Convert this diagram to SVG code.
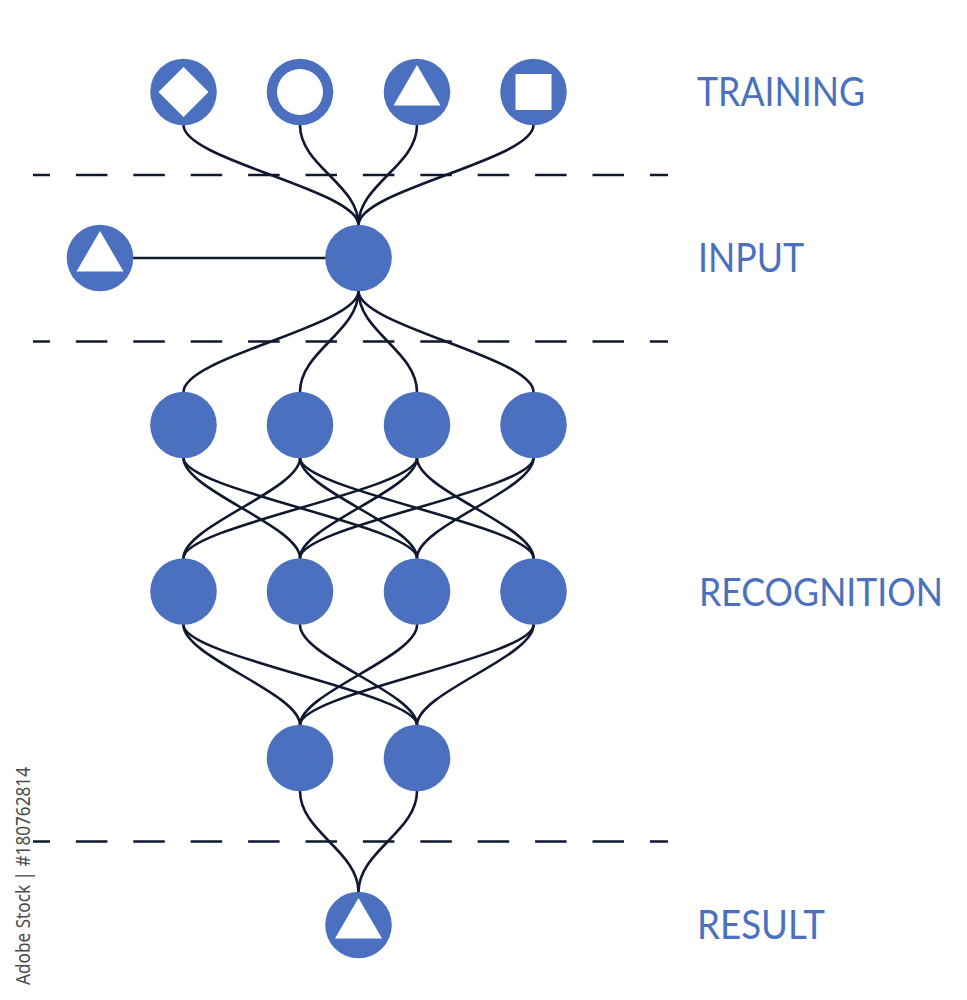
<svg xmlns="http://www.w3.org/2000/svg" width="967" height="1000" viewBox="0 0 967 1000">
<style>
.n{fill:#4b70bf}
.w{fill:#fff}
.c{fill:none;stroke:#10182f;stroke-width:2.6;stroke-linecap:round}
.d{fill:none;stroke:#10182f;stroke-width:2.4;stroke-dasharray:31.5 25.9;stroke-dashoffset:14.5}
.l{font-family:"Lato","Liberation Sans",sans-serif;font-size:40px;fill:#4b70bf}
.s{font-family:"Noto Sans","Liberation Sans",sans-serif;font-size:20px;fill:#4a4a4a}
</style>
<defs>
<circle id="dot" class="n" r="33.3"/>
<polygon id="tri" class="w" points="0,-27 23.5,13.5 -23.5,13.5"/>
</defs>
<rect width="967" height="1000" fill="#fff"/>
<g id="separators">
<path class="d" d="M33 175H668"/>
<path class="d" d="M33 341.500H668"/>
<path class="d" d="M33 841.500H668"/>
</g>
<g id="connectors">
<path class="c" d="M183.500 125C183.500 160 358.500 190 358.500 225"/>
<path class="c" d="M300 125C300 166 358.500 184 358.500 225"/>
<path class="c" d="M417 125C417 166 358.500 184 358.500 225"/>
<path class="c" d="M533.500 125C533.500 160 358.500 190 358.500 225"/>
<path class="c" d="M133 258H325"/>
<path class="c" d="M358.500 291C358.500 326 183.500 357 183.500 392"/>
<path class="c" d="M358.500 291C358.500 332 300 351 300 392"/>
<path class="c" d="M358.500 291C358.500 332 417 351 417 392"/>
<path class="c" d="M358.500 291C358.500 326 533.500 357 533.500 392"/>
<path class="c" d="M183.500 458C183.500 490 300 526 300 558"/>
<path class="c" d="M183.500 458C183.500 490 417 526 417 558"/>
<path class="c" d="M300 458C300 490 183.500 526 183.500 558"/>
<path class="c" d="M300 458C300 490 417 526 417 558"/>
<path class="c" d="M300 458C300 490 533.500 526 533.500 558"/>
<path class="c" d="M417 458C417 490 183.500 526 183.500 558"/>
<path class="c" d="M417 458C417 490 300 526 300 558"/>
<path class="c" d="M417 458C417 490 533.500 526 533.500 558"/>
<path class="c" d="M533.500 458C533.500 490 300 526 300 558"/>
<path class="c" d="M533.500 458C533.500 490 417 526 417 558"/>
<path class="c" d="M183.500 625C183.500 657 300 693 300 725"/>
<path class="c" d="M183.500 625C183.500 657 417 693 417 725"/>
<path class="c" d="M300 625C300 657 417 693 417 725"/>
<path class="c" d="M417 625C417 657 300 693 300 725"/>
<path class="c" d="M533.500 625C533.500 657 300 693 300 725"/>
<path class="c" d="M533.500 625C533.500 657 417 693 417 725"/>
<path class="c" d="M300 791C300 832 358.500 851 358.500 892"/>
<path class="c" d="M417 791C417 832 358.500 851 358.500 892"/>
</g>
<g id="train-diamond"><use href="#dot" x="183.500" y="92"/><polygon class="w" points="183.500,67 208.500,92 183.500,117 158.500,92"/></g>
<g id="train-circle"><use href="#dot" x="300" y="92"/><circle class="w" cx="300" cy="92" r="23"/></g>
<g id="train-triangle"><use href="#dot" x="417" y="92"/><use href="#tri" x="417" y="92"/></g>
<g id="train-square"><use href="#dot" x="533.500" y="92"/><rect class="w" x="515.500" y="74" width="36" height="36"/></g>
<g id="input-sample"><use href="#dot" x="100" y="258"/><use href="#tri" x="100" y="258"/></g>
<g id="input-node"><use href="#dot" x="358.500" y="258"/></g>
<g id="r1a"><use href="#dot" x="183.500" y="425"/></g>
<g id="r1b"><use href="#dot" x="300" y="425"/></g>
<g id="r1c"><use href="#dot" x="417" y="425"/></g>
<g id="r1d"><use href="#dot" x="533.500" y="425"/></g>
<g id="r2a"><use href="#dot" x="183.500" y="591.500"/></g>
<g id="r2b"><use href="#dot" x="300" y="591.500"/></g>
<g id="r2c"><use href="#dot" x="417" y="591.500"/></g>
<g id="r2d"><use href="#dot" x="533.500" y="591.500"/></g>
<g id="r3a"><use href="#dot" x="300" y="758"/></g>
<g id="r3b"><use href="#dot" x="417" y="758"/></g>
<g id="result"><use href="#dot" x="358.500" y="925"/><use href="#tri" x="358.500" y="925"/></g>
<g id="labels">
<text class="l" x="697" y="106" textLength="168" lengthAdjust="spacingAndGlyphs">TRAINING</text>
<text class="l" x="698" y="272" textLength="106" lengthAdjust="spacingAndGlyphs">INPUT</text>
<text class="l" x="699" y="606" style="font-size:39px" textLength="244" lengthAdjust="spacingAndGlyphs">RECOGNITION</text>
<text class="l" x="697" y="939" textLength="128" lengthAdjust="spacingAndGlyphs">RESULT</text>
</g>
<text class="s" transform="translate(30 985) rotate(-90)" textLength="218" lengthAdjust="spacingAndGlyphs">Adobe Stock | #180762814</text>
</svg>
